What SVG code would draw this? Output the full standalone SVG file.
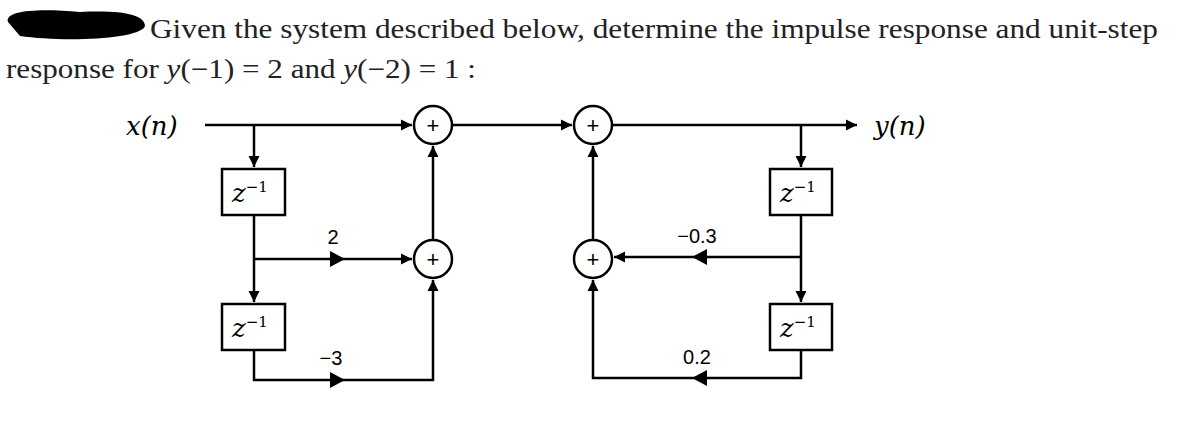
<svg xmlns="http://www.w3.org/2000/svg" width="1179" height="427" viewBox="0 0 1179 427">
<style>
.t{font-family:"Liberation Serif",serif;font-size:27px;fill:#222}
.m{font-family:"DejaVu Serif",serif;font-style:italic;font-size:26px;fill:#000}
.g{font-family:"Liberation Sans",sans-serif;font-size:20px;fill:#000}
.l{stroke:#000;stroke-width:2.5;fill:none}
.b{stroke:#000;stroke-width:2.5;fill:#fff}
.p{font-family:"Liberation Sans",sans-serif;font-size:22px;fill:#000}
</style>
<defs><marker id="a" viewBox="0 0 10 10" refX="10" refY="5" markerWidth="4.5" markerHeight="4.5" orient="auto"><path d="M0,0L10,5L0,10z" fill="#000"/></marker></defs>
<path d="M8,22 C4,10 40,8 80,12 C120,10 145,14 145,26 C140,40 60,42 20,36 Z" fill="#000"/>
<text class="t" x="150" y="38" textLength="1008" lengthAdjust="spacingAndGlyphs">Given the system described below, determine the impulse response and unit-step</text>
<text class="t" x="6" y="78" textLength="470" lengthAdjust="spacingAndGlyphs">response for <tspan font-style="italic">y</tspan>(−1) = 2 and <tspan font-style="italic">y</tspan>(−2) = 1 :</text>
<text class="m" x="126" y="135">x(n)</text>
<text class="m" x="874" y="135">y(n)</text>
<g id="connectors">
<path class="l" d="M205,125H412" marker-end="url(#a)"/>
<path class="l" d="M452,125H572" marker-end="url(#a)"/>
<path class="l" d="M612,125H857" marker-end="url(#a)"/>
<path class="l" d="M254,125V167" marker-end="url(#a)"/>
<path class="l" d="M254,215V302" marker-end="url(#a)"/>
<path class="l" d="M254,259H412" marker-end="url(#a)"/>
<path class="l" d="M254,350V380H433V280" marker-end="url(#a)"/>
<path class="l" d="M433,240V146" marker-end="url(#a)"/>
<path class="l" d="M801,125V167" marker-end="url(#a)"/>
<path class="l" d="M801,215V302" marker-end="url(#a)"/>
<path class="l" d="M801,257H614" marker-end="url(#a)"/>
<path class="l" d="M801,350V378H593V280" marker-end="url(#a)"/>
<path class="l" d="M593,240V146" marker-end="url(#a)"/>
<path d="M330,251L345,259L330,267Z"/>
<path d="M330,372L345,380L330,388Z"/>
<path d="M707,249L692,257L707,265Z"/>
<path d="M707,370L692,378L707,386Z"/>
</g>
<g id="d1"><rect class="b" x="222" y="169" width="63" height="46"/><text class="m" x="232" y="202" font-size="21">z<tspan font-style="normal" font-size="15" dy="-10">−1</tspan></text></g>
<g id="d2"><rect class="b" x="222" y="304" width="63" height="46"/><text class="m" x="232" y="337" font-size="21">z<tspan font-style="normal" font-size="15" dy="-10">−1</tspan></text></g>
<g id="d3"><rect class="b" x="770" y="169" width="62" height="46"/><text class="m" x="780" y="202" font-size="21">z<tspan font-style="normal" font-size="15" dy="-10">−1</tspan></text></g>
<g id="d4"><rect class="b" x="770" y="304" width="62" height="46"/><text class="m" x="780" y="337" font-size="21">z<tspan font-style="normal" font-size="15" dy="-10">−1</tspan></text></g>
<g id="s1"><circle class="b" cx="433" cy="125" r="19"/><text class="p" x="433" y="133" text-anchor="middle">+</text></g>
<g id="s2"><circle class="b" cx="433" cy="259" r="19"/><text class="p" x="433" y="267" text-anchor="middle">+</text></g>
<g id="s3"><circle class="b" cx="593" cy="125" r="19"/><text class="p" x="593" y="133" text-anchor="middle">+</text></g>
<g id="s4"><circle class="b" cx="593" cy="259" r="19"/><text class="p" x="593" y="267" text-anchor="middle">+</text></g>
<text class="g" x="333" y="244" text-anchor="middle">2</text>
<text class="g" x="331" y="365" text-anchor="middle">−3</text>
<text class="g" x="697" y="243" text-anchor="middle">−0.3</text>
<text class="g" x="697" y="364" text-anchor="middle">0.2</text>
</svg>
